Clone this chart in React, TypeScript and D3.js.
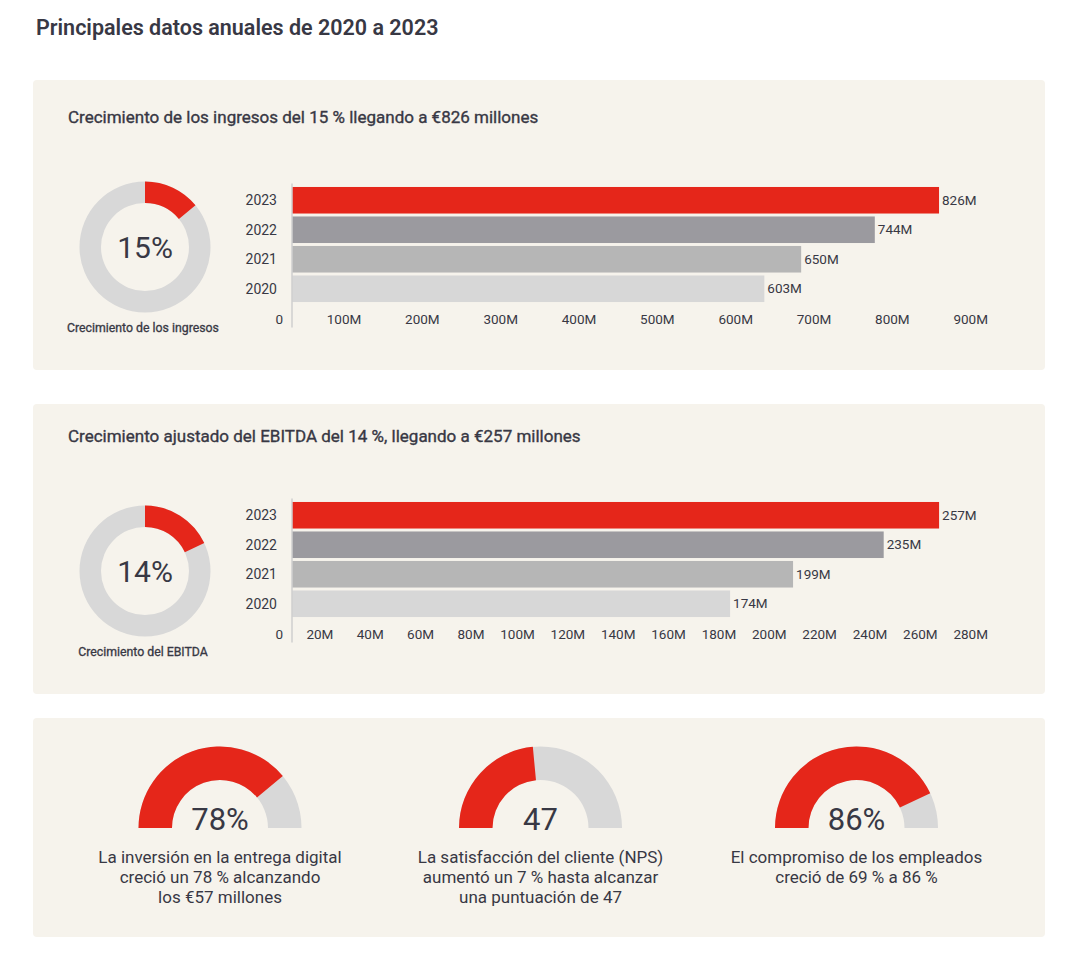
import { FC, useEffect, useRef } from 'react';
import * as d3 from 'd3';

const pageTitle = 'Principales datos anuales de 2020 a 2023';
const panelTitles = [
  'Crecimiento de los ingresos del 15 % llegando a €826 millones',
  'Crecimiento ajustado del EBITDA del 14 %, llegando a €257 millones',
];

const years = ['2023', '2022', '2021', '2020'];
const revenue = [826, 744, 650, 603];
const ebitda = [257, 235, 199, 174];
const revenueTicks = [0, 100, 200, 300, 400, 500, 600, 700, 800, 900];
const ebitdaTicks = [0, 20, 40, 60, 80, 100, 120, 140, 160, 180, 200, 220, 240, 260, 280];
const barColors = ['#e5261a', '#9b9a9f', '#b6b6b6', '#d7d7d7'];

const donutLabels = ['15%', '14%'];
const donutShares = [0.14, 0.18]; // arc size as drawn in the picture
const donutCaptions = ['Crecimiento de los ingresos', 'Crecimiento del EBITDA'];

const gaugeValues = [0.78, 0.47, 0.86];
const gaugeLabels = ['78%', '47', '86%'];
const gaugeTexts = [
  ['La inversión en la entrega digital', 'creció un 78 % alcanzando', 'los €57 millones'],
  ['La satisfacción del cliente (NPS)', 'aumentó un 7 % hasta alcanzar', 'una puntuación de 47'],
  ['El compromiso de los empleados', 'creció de 69 % a 86 %'],
];

const RED = '#e5261a';
const GREY = '#d8d8d8';
const TEXT = '#383844';
const PANEL = '#f6f3ec';
const FONT = 'Roboto, "Noto Sans", sans-serif';

const W = 1080;
const H = 967;

const App: FC = () => {
  const svgRef = useRef<SVGSVGElement | null>(null);

  useEffect(() => {
    if (!svgRef.current) return;
    const svg = d3.select(svgRef.current);
    svg.selectAll('*').remove();
    svg.style('font-family', FONT);

    svg.append('text')
      .attr('x', 36).attr('y', 35)
      .attr('font-size', 21.5).attr('font-weight', 600)
      .attr('fill', TEXT)
      .text(pageTitle);

    // panels
    const panels = [
      { y: 80, h: 290 },
      { y: 404, h: 290 },
      { y: 718, h: 219 },
    ];
    svg.selectAll('rect.panel')
      .data(panels)
      .enter()
      .append('rect')
      .attr('class', 'panel')
      .attr('x', 33).attr('y', d => d.y)
      .attr('width', 1012).attr('height', d => d.h)
      .attr('rx', 4)
      .attr('fill', PANEL);

    // bar chart sections
    const sections = [
      { values: revenue, ticks: revenueTicks, top: 80, titleY: 123, bandTop: 185.5 },
      { values: ebitda, ticks: ebitdaTicks, top: 404, titleY: 442, bandTop: 500.5 },
    ];

    sections.forEach((s, i) => {
      const g = svg.append('g');

      g.append('text')
        .attr('x', 68).attr('y', s.titleY)
        .attr('font-size', 17)
        .attr('fill', TEXT)
        .attr('stroke', TEXT).attr('stroke-width', 0.35)
        .text(panelTitles[i]);

      // donut
      const cx = 145;
      const cy = s.top + 167;
      const arc = d3.arc<any>().innerRadius(44).outerRadius(65.5);
      const dg = g.append('g').attr('transform', `translate(${cx},${cy})`);
      dg.append('path')
        .attr('d', arc({ startAngle: 0, endAngle: Math.PI * 2 }) as string)
        .attr('fill', GREY);
      dg.append('path')
        .attr('d', arc({ startAngle: 0, endAngle: Math.PI * 2 * donutShares[i] }) as string)
        .attr('fill', RED);
      dg.append('text')
        .attr('y', 11)
        .attr('text-anchor', 'middle')
        .attr('font-size', 30)
        .attr('fill', TEXT)
        .text(donutLabels[i]);
      g.append('text')
        .attr('x', 143).attr('y', cy + 85)
        .attr('text-anchor', 'middle')
        .attr('font-size', 12.3)
        .attr('fill', TEXT)
        .attr('stroke', TEXT).attr('stroke-width', 0.3)
        .text(donutCaptions[i]);

      // bars
      const x = d3.scaleLinear()
        .domain([0, s.ticks[s.ticks.length - 1]])
        .range([292, 997]);
      const y = d3.scaleBand<string>()
        .domain(years)
        .range([s.bandTop, s.bandTop + 118])
        .paddingInner(0.1)
        .paddingOuter(0.05);

      g.selectAll('rect.bar')
        .data(s.values)
        .enter()
        .append('rect')
        .attr('class', 'bar')
        .attr('x', x(0))
        .attr('y', (_d, j) => y(years[j]) as number)
        .attr('width', d => x(d) - x(0))
        .attr('height', y.bandwidth())
        .attr('fill', (_d, j) => barColors[j]);

      g.selectAll('text.val')
        .data(s.values)
        .enter()
        .append('text')
        .attr('class', 'val')
        .attr('x', d => x(d) + 3)
        .attr('y', (_d, j) => (y(years[j]) as number) + y.bandwidth() / 2)
        .attr('dy', '0.35em')
        .attr('font-size', 13.5)
        .attr('fill', TEXT)
        .text(d => `${d}M`);

      g.selectAll('text.year')
        .data(years)
        .enter()
        .append('text')
        .attr('class', 'year')
        .attr('x', 277)
        .attr('y', d => (y(d) as number) + y.bandwidth() / 2)
        .attr('dy', '0.35em')
        .attr('text-anchor', 'end')
        .attr('font-size', 14)
        .attr('fill', TEXT)
        .text(d => d);

      const axisY = s.bandTop + 134;
      g.selectAll('text.tick')
        .data(s.ticks)
        .enter()
        .append('text')
        .attr('class', 'tick')
        .attr('x', d => x(d) - 9)
        .attr('y', axisY)
        .attr('dy', '0.35em')
        .attr('text-anchor', 'end')
        .attr('font-size', 13.5)
        .attr('fill', TEXT)
        .text(d => (d === 0 ? '0' : `${d}M`));

      g.append('line')
        .attr('x1', x(0)).attr('x2', x(0))
        .attr('y1', s.bandTop - 2).attr('y2', axisY + 8)
        .attr('stroke', '#cfcfcf')
        .attr('stroke-width', 1.5);
    });

    // gauges
    const gaugeX = [220, 540.5, 856.5];
    const gaugeY = 828;
    const garc = d3.arc<any>().innerRadius(48).outerRadius(81.5);
    gaugeValues.forEach((v, i) => {
      const g = svg.append('g').attr('transform', `translate(${gaugeX[i]},${gaugeY})`);
      g.append('path')
        .attr('d', garc({ startAngle: -Math.PI / 2, endAngle: Math.PI / 2 }) as string)
        .attr('fill', GREY);
      g.append('path')
        .attr('d', garc({ startAngle: -Math.PI / 2, endAngle: -Math.PI / 2 + Math.PI * v }) as string)
        .attr('fill', RED);
      g.append('text')
        .attr('y', 2)
        .attr('text-anchor', 'middle')
        .attr('font-size', 31)
        .attr('fill', TEXT)
        .text(gaugeLabels[i]);
      g.selectAll('text.desc')
        .data(gaugeTexts[i])
        .enter()
        .append('text')
        .attr('class', 'desc')
        .attr('y', (_d, j) => 35 + j * 20)
        .attr('text-anchor', 'middle')
        .attr('font-size', 17)
        .attr('fill', TEXT)
        .text(d => d);
    });
  }, []);

  return (
    <svg
      ref={svgRef}
      width={W}
      height={H}
      style={{ position: 'absolute', left: 0, top: 0, background: '#fff' }}
    />
  );
};

export default App;
